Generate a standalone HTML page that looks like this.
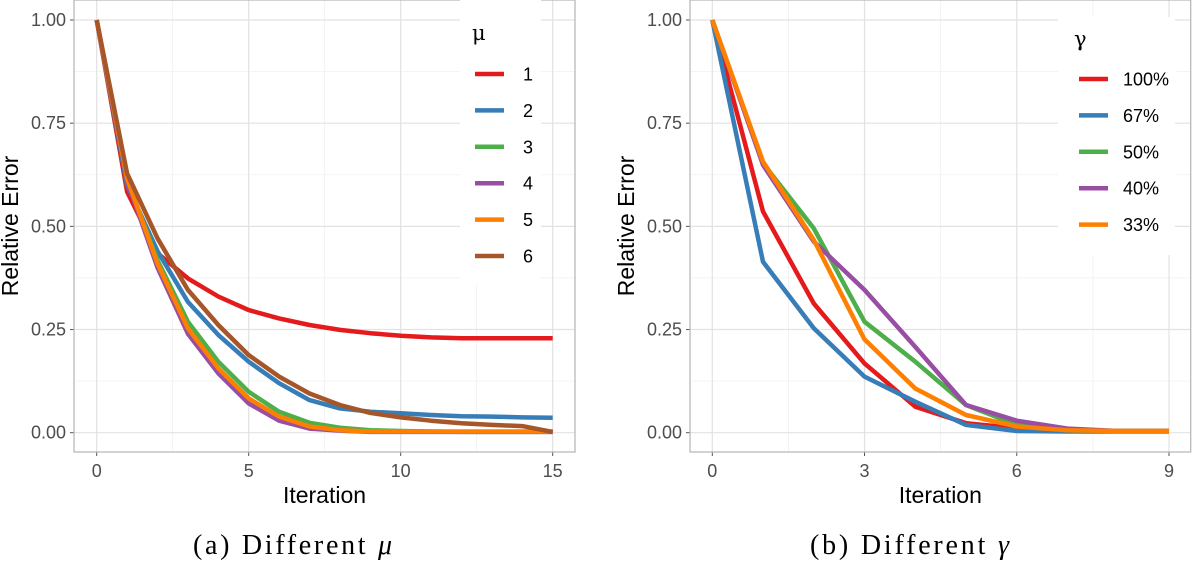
<!DOCTYPE html>
<html><head><meta charset="utf-8"><style>
body{margin:0;background:#fff;width:1200px;height:562px;overflow:hidden}
svg{display:block;font-family:"Liberation Sans",sans-serif}
</style></head><body>
<svg id="chart" width="1200" height="562"></svg>
<script>
const leftX = [0,1,2,3,4,5,6,7,8,9,10,11,12,13,14,15];
const mu1 = [1,0.584,0.435,0.374,0.33,0.297,0.277,0.261,0.249,0.241,0.235,0.231,0.229,0.229,0.229,0.229];
const mu2 = [1,0.60,0.44,0.317,0.237,0.172,0.12,0.079,0.059,0.051,0.047,0.043,0.04,0.039,0.037,0.036];
const mu3 = [1,0.612,0.418,0.269,0.172,0.099,0.051,0.024,0.012,0.006,0.004,0.003,0.002,0.002,0.002,0.002];
const mu4 = [1,0.61,0.40,0.24,0.144,0.071,0.029,0.01,0.005,0.002,0.002,0.002,0.002,0.002,0.002,0.002];
const mu5 = [1,0.616,0.41,0.253,0.156,0.083,0.039,0.015,0.006,0.003,0.003,0.003,0.003,0.003,0.003,0.003];
const mu6 = [1,0.628,0.471,0.346,0.261,0.188,0.136,0.095,0.067,0.048,0.037,0.029,0.023,0.019,0.016,0.002];
const muLabels = ["1","2","3","4","5","6"];
const rightX = [0,1,2,3,4,5,6,7,8,9];
const g100 = [1,0.536,0.313,0.168,0.063,0.023,0.011,0.005,0.004,0.004];
const g67 = [1,0.414,0.253,0.136,0.075,0.019,0.004,0.003,0.003,0.003];
const g50 = [1,0.653,0.495,0.269,0.172,0.067,0.019,0.006,0.004,0.004];
const g40 = [1,0.649,0.463,0.346,0.208,0.067,0.029,0.01,0.004,0.004];
const g33 = [1,0.657,0.467,0.226,0.107,0.043,0.015,0.006,0.004,0.004];
const gLabels = ["100%","67%","50%","40%","33%"];
const yTicks = [0,0.25,0.5,0.75,1];
const yTickLabels = ["0.00","0.25","0.50","0.75","1.00"];
const leftXTicks = [0,5,10,15];
const rightXTicks = [0,3,6,9];
const colors = ["#e41a1c","#377eb8","#4daf4a","#984ea3","#ff7f00","#a65628"];

const NS="http://www.w3.org/2000/svg";
const svg=document.getElementById('chart');
function mk(tag,attrs,parent,text){const e=document.createElementNS(NS,tag);for(const k in attrs)e.setAttribute(k,attrs[k]);if(text!==undefined)e.textContent=text;(parent||svg).appendChild(e);return e;}

function panel(cfg){
  const g=mk('g',{});
  
  
  const sx=v=>cfg.x0+(v-cfg.d0)/(cfg.d1-cfg.d0)*(cfg.x1-cfg.x0);
  const sy=v=>cfg.y0+(1-v)*(cfg.yb-cfg.y0);
  for(let i=0;i<yTicks.length-1;i++){const v=(yTicks[i]+yTicks[i+1])/2;
    mk('line',{x1:cfg.L,x2:cfg.R,y1:sy(v),y2:sy(v),stroke:'#f0f0f0','stroke-width':0.8},g);}
  for(let i=0;i<cfg.xt.length-1;i++){const v=(cfg.xt[i]+cfg.xt[i+1])/2;
    mk('line',{x1:sx(v),x2:sx(v),y1:cfg.T,y2:cfg.B,stroke:'#f0f0f0','stroke-width':0.8},g);}
  yTicks.forEach((v,i)=>{
    mk('line',{x1:cfg.L,x2:cfg.R,y1:sy(v),y2:sy(v),stroke:'#e2e2e2','stroke-width':1.2},g);
    mk('line',{x1:cfg.L-4,x2:cfg.L,y1:sy(v),y2:sy(v),stroke:'#555','stroke-width':1},g);
    const t=mk('text',{x:cfg.L-8,y:sy(v)+6,'text-anchor':'end','font-size':18,fill:'#4d4d4d'},g,yTickLabels[i]);
    
    
  });
  cfg.xt.forEach(v=>{
    mk('line',{x1:sx(v),x2:sx(v),y1:cfg.T,y2:cfg.B,stroke:'#e2e2e2','stroke-width':1.2},g);
    mk('line',{x1:sx(v),x2:sx(v),y1:cfg.B,y2:cfg.B+4,stroke:'#555','stroke-width':1},g);
    const t=mk('text',{x:sx(v),y:cfg.B+25,'text-anchor':'middle','font-size':18,fill:'#4d4d4d'},g,String(v));
    
    
  });
  cfg.series.forEach((s,i)=>{
    const d=s.map((v,j)=>(j?'L':'M')+sx(cfg.xs[j]).toFixed(1)+','+sy(v).toFixed(1)).join('');
    const p=mk('path',{d:d,fill:'none',stroke:colors[i],'stroke-width':4.5,'stroke-linejoin':'round'},g);
    
    
  });
  mk('rect',{x:cfg.L,y:cfg.T,width:cfg.R-cfg.L,height:cfg.B-cfg.T,fill:'none',stroke:'#b3b3b3','stroke-width':1.2},g);
  const lg=mk('g',{},g);
  
  
  mk('rect',{x:cfg.lx,y:cfg.ly,width:cfg.lw,height:cfg.lh,fill:'#fff'},lg);
  const lt=mk('text',{x:cfg.tx,y:cfg.ty,'font-size':21,'font-family':'"DejaVu Serif",serif',fill:'#000'},lg,cfg.sym);
  
  
  cfg.labels.forEach((lab,i)=>{
    const y=cfg.ky+i*36.4;
    const e=mk('g',{},lg);
    
    
    mk('line',{x1:cfg.kx,x2:cfg.kx+29,y1:y,y2:y,stroke:colors[i],'stroke-width':4.5},e);
    mk('text',{x:cfg.labX,y:y+6.5,'font-size':18,fill:'#000'},e,lab);
  });
  const xt=mk('text',{x:(cfg.L+cfg.R)/2,y:503,'text-anchor':'middle','font-size':23,fill:'#000'},g,'Iteration');
  
  
  const yt=mk('text',{x:0,y:0,'text-anchor':'middle','font-size':23,fill:'#000',transform:`translate(${cfg.ytx},226) rotate(-90)`},g,'Relative Error');
  
  
  const cap=mk('text',{x:cfg.capX,y:554,'font-size':28,'font-family':'"Liberation Serif",serif',fill:'#000',textLength:199,lengthAdjust:'spacing'},g);
  
  
  cap.appendChild(document.createTextNode(cfg.cap+' '));
  mk('tspan',{'font-style':'italic'},cap,cfg.sym);
}
panel({name:'panel-a',x0:96.7,x1:552.7,d0:0,d1:15,y0:20,yb:432.7,L:74,R:575,T:0,B:452,
  xt:leftXTicks,xs:leftX,series:[mu1,mu2,mu3,mu4,mu5,mu6],labels:muLabels,
  lx:460,ly:0,lw:81,lh:285,tx:472,ty:40,kx:475,ky:74,labX:523,sym:'μ',ytx:18,capX:193,cap:'(a)  Different'});
panel({name:'panel-b',x0:712.3,x1:1169,d0:0,d1:9,y0:20,yb:432.7,L:690,R:1190.7,T:0,B:452,
  xt:rightXTicks,xs:rightX,series:[g100,g67,g50,g40,g33],labels:gLabels,
  lx:1058,ly:17,lw:117,lh:238,tx:1074,ty:46,kx:1079,ky:79,labX:1123,sym:'γ',ytx:634,capX:810,cap:'(b)  Different'});
</script>
</body></html>
